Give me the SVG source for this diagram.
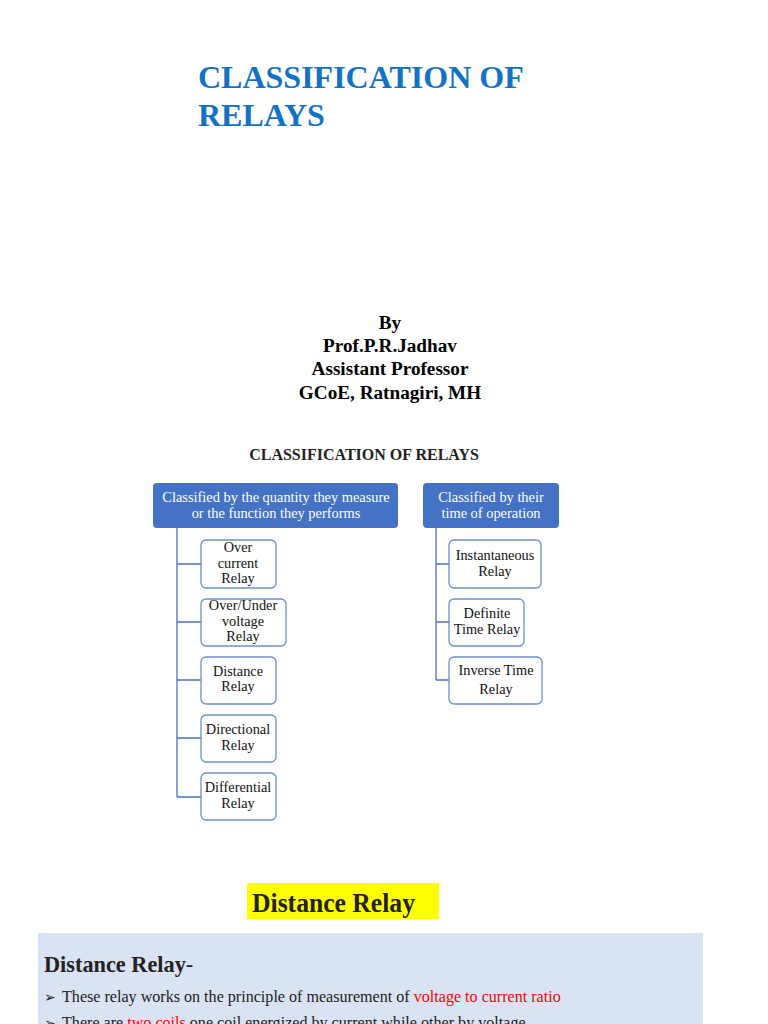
<svg xmlns="http://www.w3.org/2000/svg" width="768" height="1024" viewBox="0 0 768 1024">
<style>
text{font-family:"Liberation Serif","Times New Roman",serif;}
.title{font-size:32px;font-weight:bold;fill:#1272c6;}
.by{font-size:19.2px;font-weight:bold;fill:#000;text-anchor:middle;}
.hdr{fill:#4472c4;}
.hdrt{font-size:14.4px;fill:#fff;text-anchor:middle;}
.box{fill:#fff;stroke:#6a8fd3;stroke-width:1.3;}
.bt{font-size:14.3px;fill:#111;text-anchor:middle;}
.conn{fill:none;stroke:#4a72c0;stroke-width:1.3;}
.body{font-size:16.1px;fill:#222;}
.red{fill:#ff0000;}
.arr{font-family:"DejaVu Sans",sans-serif;font-size:14px;fill:#222;}
</style>
<rect width="768" height="1024" fill="#fff"/>
<text class="title" x="198" y="88">CLASSIFICATION OF</text>
<text class="title" x="198" y="126">RELAYS</text>
<text class="by" x="390" y="329">By</text>
<text class="by" x="390" y="352">Prof.P.R.Jadhav</text>
<text class="by" x="390" y="375">Assistant Professor</text>
<text class="by" x="390" y="399">GCoE, Ratnagiri, MH</text>
<text x="364" y="460" font-size="16" font-weight="bold" fill="#222" text-anchor="middle">CLASSIFICATION OF RELAYS</text>
<g id="connectors">
<path class="conn" d="M177,528 V797 M177,564 H201 M177,622 H201 M177,680 H201 M177,738 H201 M177,797 H201"/>
<path class="conn" d="M436,528 V680 M436,564 H449 M436,622 H449 M436,680 H449"/>
</g>
<g id="h1"><rect class="hdr" x="153" y="483" width="245" height="45" rx="4"/>
<text class="hdrt" x="276" y="502">Classified by the quantity they measure</text>
<text class="hdrt" x="276" y="518">or the function they performs</text></g>
<g id="h2"><rect class="hdr" x="423" y="483" width="136" height="45" rx="4"/>
<text class="hdrt" x="491" y="502">Classified by their</text>
<text class="hdrt" x="491" y="518">time of operation</text></g>
<g id="n1"><rect class="box" x="201" y="540" width="75" height="48" rx="5"/>
<text class="bt" x="238" y="552">Over</text><text class="bt" x="238" y="568">current</text><text class="bt" x="238" y="583">Relay</text></g>
<g id="n2"><rect class="box" x="201" y="599" width="85" height="47" rx="5"/>
<text class="bt" x="243" y="610">Over/Under</text><text class="bt" x="243" y="626">voltage</text><text class="bt" x="243" y="641">Relay</text></g>
<g id="n3"><rect class="box" x="201" y="657" width="75" height="47" rx="5"/>
<text class="bt" x="238" y="676">Distance</text><text class="bt" x="238" y="691">Relay</text></g>
<g id="n4"><rect class="box" x="201" y="715" width="75" height="47" rx="5"/>
<text class="bt" x="238" y="734">Directional</text><text class="bt" x="238" y="750">Relay</text></g>
<g id="n5"><rect class="box" x="201" y="773" width="75" height="47" rx="5"/>
<text class="bt" x="238" y="792">Differential</text><text class="bt" x="238" y="808">Relay</text></g>
<g id="n6"><rect class="box" x="449" y="540" width="92" height="48" rx="5"/>
<text class="bt" x="495" y="560">Instantaneous</text><text class="bt" x="495" y="576">Relay</text></g>
<g id="n7"><rect class="box" x="449" y="599" width="75" height="47" rx="5"/>
<text class="bt" x="487" y="618">Definite</text><text class="bt" x="487" y="634">Time Relay</text></g>
<g id="n8"><rect class="box" x="449" y="657" width="93" height="47" rx="5"/>
<text class="bt" x="496" y="675" font-size="16">Inverse Time</text><text class="bt" x="496" y="694" font-size="16">Relay</text></g>
<rect x="247" y="883" width="192" height="36" fill="#ffff00"/>
<text x="252" y="912" font-size="27" font-weight="bold" fill="#222" textLength="163" lengthAdjust="spacingAndGlyphs">Distance Relay</text>
<rect x="38" y="933" width="665" height="95" fill="#dae3f3"/>
<text x="44" y="972" font-size="22.3" fill="#222"><tspan font-weight="bold">Distance Relay</tspan>-</text>
<text class="arr" x="44" y="1002">➢</text>
<text class="body" x="62" y="1002">These relay works on the principle of measurement of <tspan class="red">voltage to current ratio</tspan></text>
<text class="arr" x="44" y="1028">➢</text>
<text class="body" x="62" y="1028">There are <tspan class="red">two coils</tspan> one coil energized by current while other by voltage</text>
</svg>
